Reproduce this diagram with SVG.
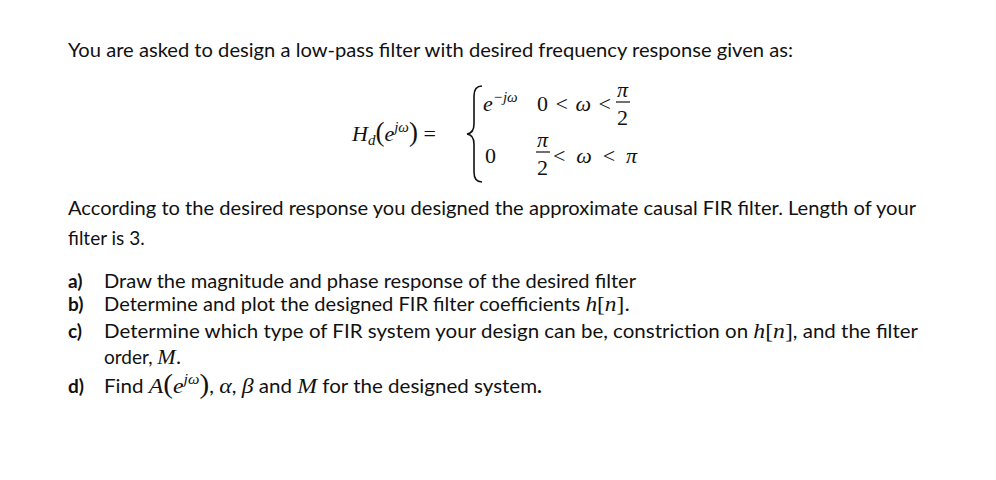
<svg xmlns="http://www.w3.org/2000/svg" width="996" height="480" viewBox="0 0 996 480">
<style>
.t{font-family:Lato,"Open Sans","Liberation Sans",sans-serif;font-size:19px;fill:#111}
.b{font-weight:bold}
.m{font-family:"Liberation Serif","DejaVu Serif",serif;font-size:22px;fill:#111}
.i{font-style:italic}
.s{font-size:15px}
.p{font-size:27px}
</style>
<rect width="996" height="480" fill="#fff"/>
<text class="t" x="68" y="57" textLength="725" lengthAdjust="spacingAndGlyphs">You are asked to design a low-pass filter with desired frequency response given as:</text>
<g id="formula">
<text class="m" x="352" y="141"><tspan class="i">H</tspan><tspan class="i s" dy="4">d</tspan><tspan class="p" dy="-4">(</tspan><tspan class="i">e</tspan><tspan class="i s" dy="-9">jω</tspan><tspan class="p" dy="9">)</tspan> =</text>
<path d="M482,86 Q474,86 474,96 L474,124 Q474,133 467,134 Q474,135 474,144 L474,172 Q474,182 482,182" fill="none" stroke="#111" stroke-width="1.6"/>
<text class="m" x="483" y="111"><tspan class="i">e</tspan><tspan class="s i" dy="-9">−jω</tspan></text>
<text class="m" x="537" y="111" textLength="74">0 &lt; <tspan class="i">ω</tspan> &lt;</text>
<text class="m i" x="617" y="97">π</text>
<line x1="616" y1="102" x2="630" y2="102" stroke="#111" stroke-width="1.2"/>
<text class="m" x="617" y="125">2</text>
<text class="m" x="485" y="163">0</text>
<text class="m i" x="537" y="147">π</text>
<line x1="536" y1="152" x2="550" y2="152" stroke="#111" stroke-width="1.2"/>
<text class="m" x="537" y="175">2</text>
<text class="m" x="553" y="163" textLength="84">&lt; <tspan class="i">ω</tspan> &lt; <tspan class="i">π</tspan></text>
</g>
<text class="t" x="68" y="215" textLength="848" lengthAdjust="spacingAndGlyphs">According to the desired response you designed the approximate causal FIR filter. Length of your</text>
<text class="t" x="68" y="245">filter is 3.</text>
<text class="t b" x="68" y="288">a)</text>
<text class="t" x="104" y="288" textLength="532" lengthAdjust="spacingAndGlyphs">Draw the magnitude and phase response of the desired filter</text>
<text class="t b" x="68" y="311">b)</text>
<text class="t" x="104" y="311" textLength="526" lengthAdjust="spacingAndGlyphs">Determine and plot the designed FIR filter coefficients <tspan class="m i">h</tspan><tspan class="m">[</tspan><tspan class="m i">n</tspan><tspan class="m">].</tspan></text>
<text class="t b" x="68" y="338">c)</text>
<text class="t" x="104" y="338" textLength="814" lengthAdjust="spacingAndGlyphs">Determine which type of FIR system your design can be, constriction on <tspan class="m i">h</tspan><tspan class="m">[</tspan><tspan class="m i">n</tspan><tspan class="m">]</tspan>, and the filter</text>
<text class="t" x="104" y="364">order, <tspan class="m i">M</tspan><tspan class="m">.</tspan></text>
<text class="t b" x="68" y="393">d)</text>
<text class="t" x="104" y="393" textLength="438" lengthAdjust="spacingAndGlyphs">Find <tspan class="m i">A</tspan><tspan class="m p">(</tspan><tspan class="m i">e</tspan><tspan class="m i s" dy="-9">jω</tspan><tspan class="m p" dy="9">)</tspan>, <tspan class="m i">α</tspan>, <tspan class="m i">β</tspan> and <tspan class="m i">M</tspan> for the designed system<tspan class="b">.</tspan></text>
</svg>
